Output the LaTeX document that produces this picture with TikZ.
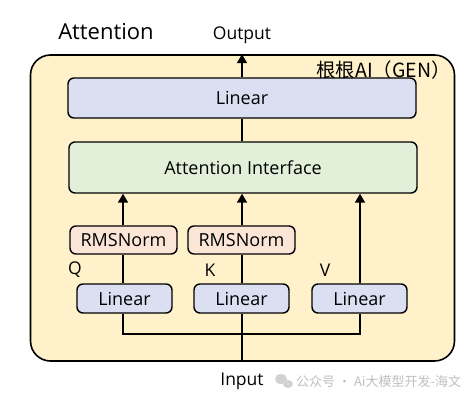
\documentclass[tikz,border=0pt]{standalone}
\usepackage{fontspec}
\setmainfont{Open Sans}
\newfontfamily\cjk{Noto Sans CJK SC}
\usetikzlibrary{arrows.meta}
\definecolor{outerfill}{HTML}{FFF1C9}
\definecolor{bluefill}{HTML}{DAE0F2}
\definecolor{greenfill}{HTML}{E2F0D9}
\definecolor{peachfill}{HTML}{FBE5D6}
\tikzset{
  box/.style={draw=black, line width=1.4pt, rounded corners=6pt, inner sep=0pt,
    font=\fontsize{18}{21}\selectfont},
  conn/.style={line width=1.8pt},
  arr/.style={conn, -{Triangle[length=9pt,width=10pt]}},
  lbl/.style={inner sep=0pt, font=\fontsize{17.5}{20}\selectfont},
}
\begin{document}
\begin{tikzpicture}[x=1pt,y=-1pt]
\useasboundingbox (0,0) rectangle (474,402);
\node[draw=black, line width=1.6pt, fill=outerfill, rounded corners=20pt,
  minimum width=424pt, minimum height=306pt, inner sep=0pt] (outer) at (242.5,208) {};
\node[lbl, font=\fontsize{22}{26}\selectfont] (title) at (106,32) {Attention};
\node[lbl] (output) at (242,35) {Output};
\node[lbl, font=\cjk\fontsize{19.5}{22}\selectfont, anchor=east] (brand) at (451,70) {根根AI（GEN）};
\node[box, fill=bluefill, minimum width=348pt, minimum height=40pt] (lin) at (242,98) {Linear};
\node[box, fill=greenfill, minimum width=348pt, minimum height=51pt] (attn) at (243,167.5) {Attention Interface};
\node[box, fill=peachfill, minimum width=107pt, minimum height=28pt] (rq) at (123.5,240) {RMSNorm};
\node[box, fill=peachfill, minimum width=107pt, minimum height=28pt] (rk) at (241.5,240) {RMSNorm};
\node[box, fill=bluefill, minimum width=95pt, minimum height=29pt] (lq) at (124.5,298.5) {Linear};
\node[box, fill=bluefill, minimum width=95pt, minimum height=29pt] (lk) at (241.5,298.5) {Linear};
\node[box, fill=bluefill, minimum width=95pt, minimum height=29pt] (lv) at (359.5,298.5) {Linear};
\node[lbl] (q) at (75,270) {Q};
\node[lbl] (k) at (210,270) {K};
\node[lbl] (v) at (325,270) {V};
\node[lbl] (input) at (242,381) {Input};
\coordinate (jq) at (123,334);
\coordinate (jk) at (242,334);
\coordinate (jv) at (360,334);
% connectors
\draw[arr] (lin.north) -- (lin.north |- outer.north);
\draw[conn] (attn.north -| lin.north) -- (lin.south);
\draw[arr] (rq.north -| jq) -- (attn.south -| jq);
\draw[arr] (rk.north -| jk) -- (attn.south -| jk);
\draw[arr] (lv.north -| jv) -- (attn.south -| jv);
\draw[conn] (lq.north -| jq) -- (rq.south -| jq);
\draw[conn] (lk.north -| jk) -- (rk.south -| jk);
\draw[conn] (lq.south -| jq) -- (jq) -- (jv) -- (lv.south -| jv);
\draw[conn] (lk.south -| jk) -- (outer.south -| jk);
% watermark
\fill[gray!35] (281,379) ellipse (6pt and 5pt);
\fill[gray!35] (288,384) ellipse (5pt and 4pt);
\node[inner sep=0pt, anchor=west, text=gray!50, font=\cjk\fontsize{13}{15}\selectfont] (wm) at (296,382) {公众号 · Ai大模型开发-海文};
\end{tikzpicture}
\end{document}
